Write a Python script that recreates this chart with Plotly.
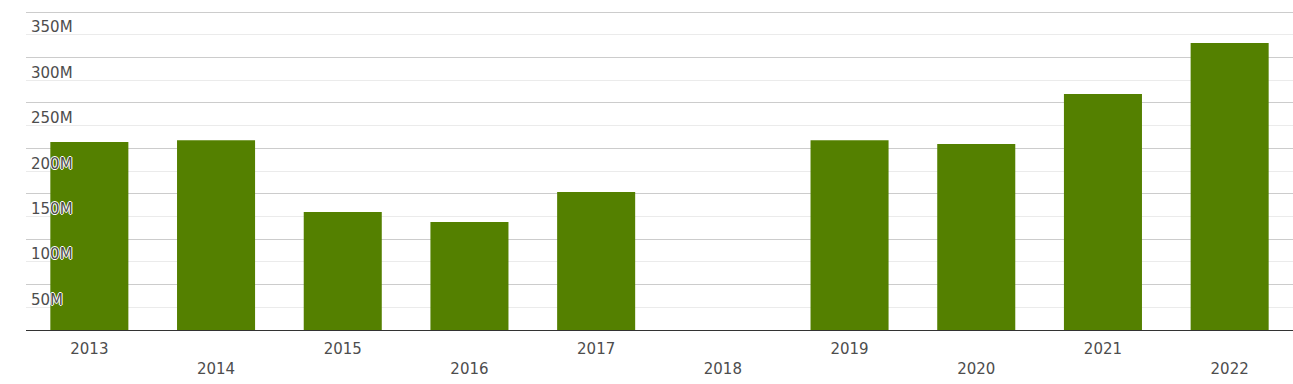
import plotly.graph_objects as go

years = ["2013", "2014", "2015", "2016", "2017", "2018", "2019", "2020", "2021", "2022"]
values = [207e6, 209e6, 130e6, 119e6, 152e6, None, 209e6, 204.7e6, 259.7e6, 316e6]
y_tickvals = [50e6, 100e6, 150e6, 200e6, 250e6, 300e6, 350e6]
y_ticktext = ["50M", "100M", "150M", "200M", "250M", "300M", "350M"]

x_ticktext = [y if i % 2 == 0 else "<br>" + y for i, y in enumerate(years)]

fig = go.Figure()
fig.add_trace(go.Bar(x=years, y=values, marker=dict(color="#548000", line=dict(width=0))))

shadow = "white 1px 0px 0px, white -1px 0px 0px, white 0px 1px 0px, white 0px -1px 0px"

fig.update_layout(
    width=1293, height=384,
    margin=dict(l=26, r=0, t=10, b=54),
    paper_bgcolor="white", plot_bgcolor="white",
    bargap=0.384,
    showlegend=False,
    font=dict(family="DejaVu Sans", size=15, color="#4d4d4d"),
    xaxis=dict(
        type="category",
        range=[-0.5, 9.5], autorange=False,
        tickvals=years, ticktext=x_ticktext,
        showgrid=False, showline=True, linecolor="#333333", linewidth=1,
        ticks="outside", ticklen=5, tickcolor="rgba(0,0,0,0)",
        tickfont=dict(family="DejaVu Sans", size=15, color="#4d4d4d"),
    ),
    yaxis=dict(
        range=[0, 352.3e6], autorange=False,
        tickvals=y_tickvals, ticktext=y_ticktext,
        ticklabelposition="inside",
        ticklabelshift=15, ticklabelstandoff=2,
        showgrid=True, gridcolor="#cccccc", gridwidth=1,
        zeroline=False, showline=False,
        tickfont=dict(family="DejaVu Sans", size=15, color="#4d4d4d", shadow=shadow),
        minor=dict(dtick=25e6, tick0=25e6, showgrid=True, gridcolor="#ebebeb", gridwidth=1),
    ),
)

fig.write_html("out.html")
